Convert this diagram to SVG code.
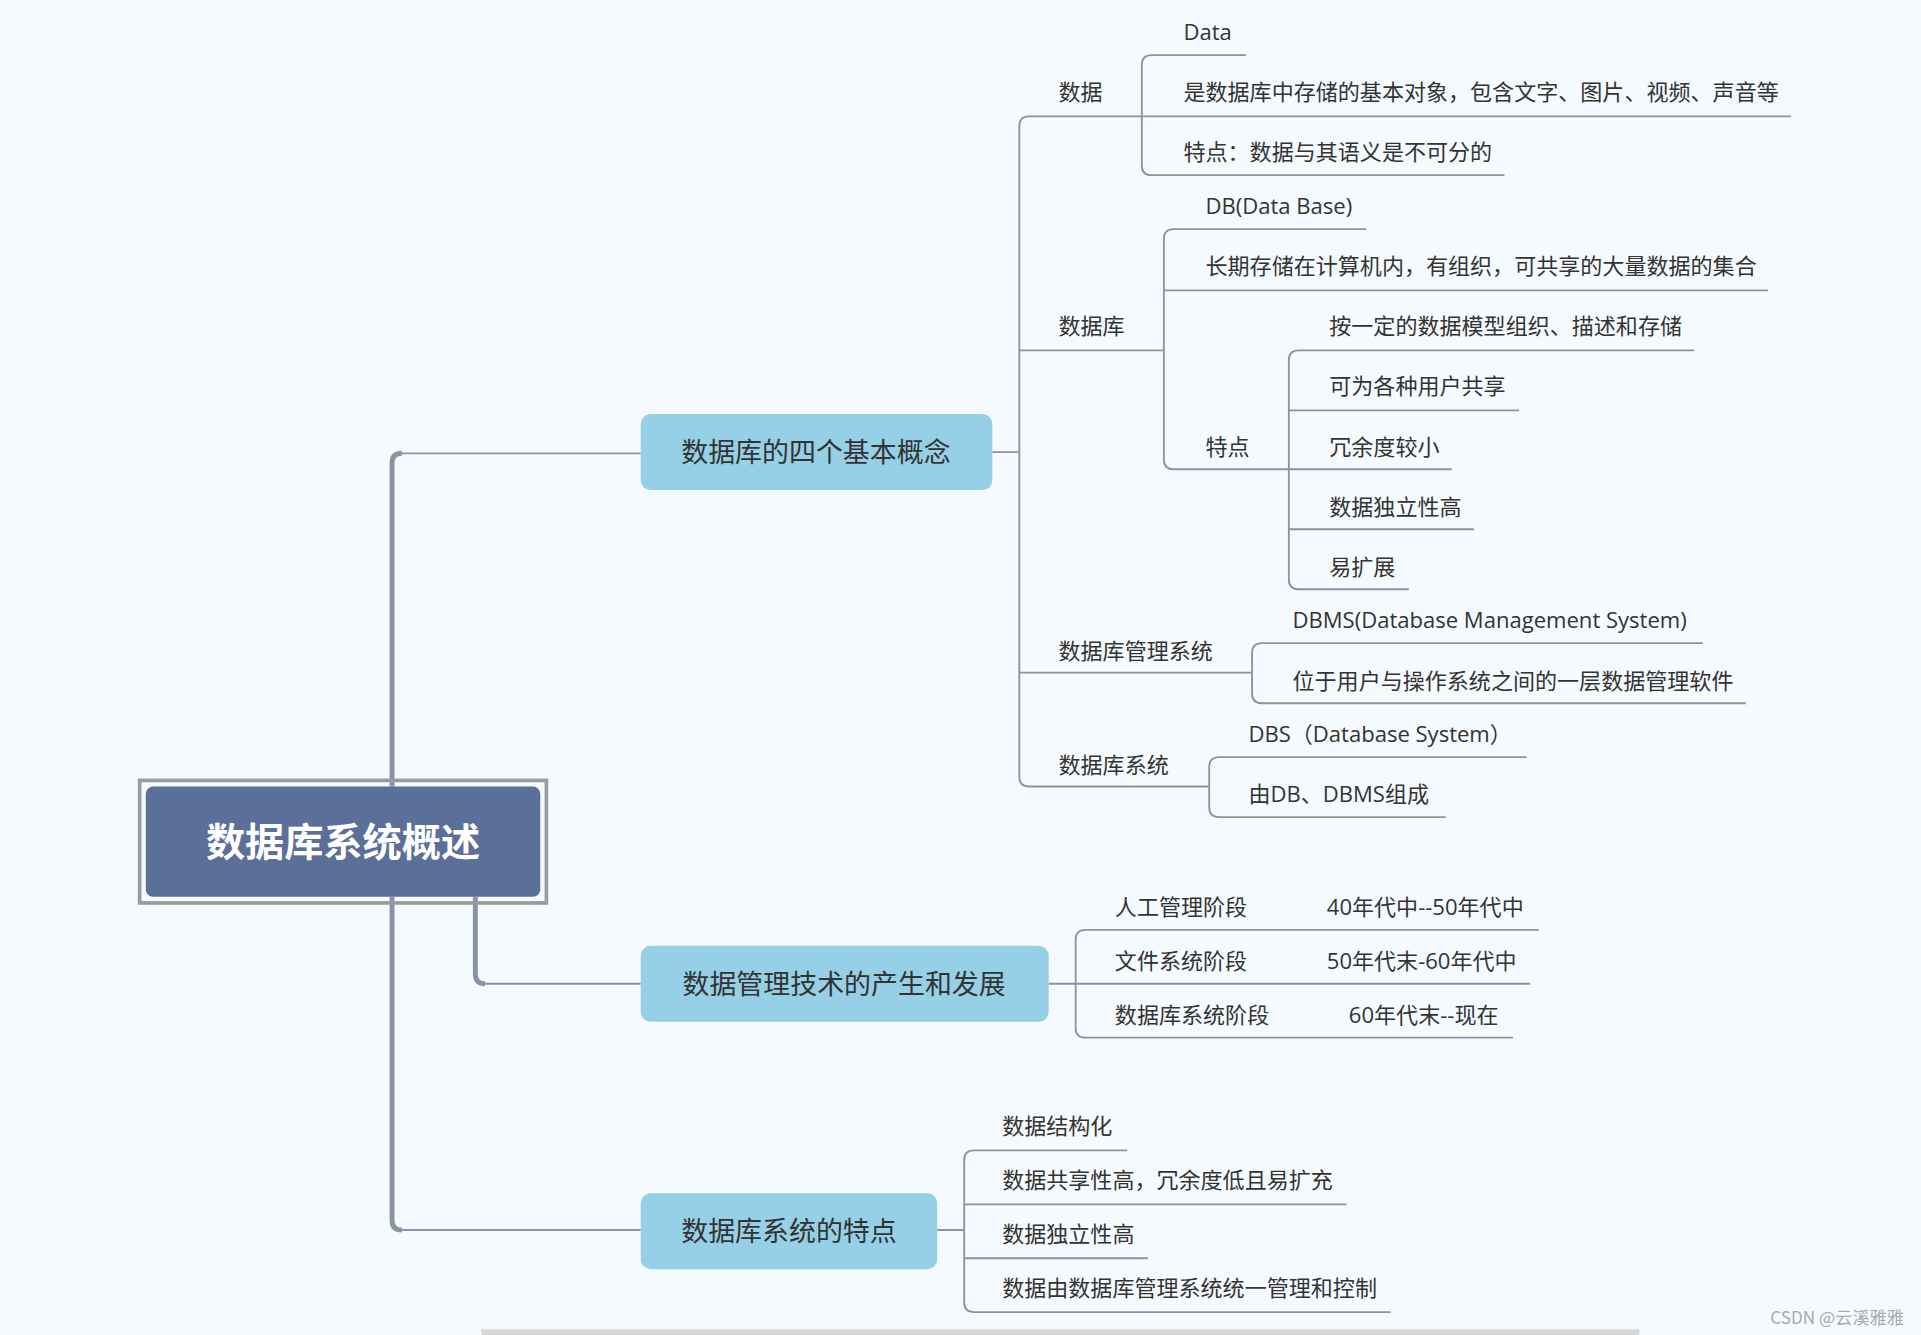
<svg xmlns="http://www.w3.org/2000/svg" width="1921" height="1335" viewBox="0 0 1921 1335">
<style>
.l{fill:none;stroke:#8a93a6;stroke-width:1.5}
.t{font-family:"Open Sans","Noto Sans CJK SC",sans-serif;font-size:18px;fill:#333}
.n{fill:#96d0e6}
.nt{font-family:"Open Sans","Noto Sans CJK SC",sans-serif;font-size:22px;fill:#333;text-anchor:middle}
</style>
<rect width="1921" height="1335" fill="#f5fafe"/>
<g transform="scale(1.22513)">
<rect x="393" y="1085" width="945" height="5" fill="#d8d8d8"/>
<g id="connectors">
<path d="M320,642 V378 Q320,370 328,370" fill="none" stroke="#8a93a6" stroke-width="4"/>
<path d="M328,370 H523" class="l"/>
<path d="M320,732 V996 Q320,1004 328,1004" fill="none" stroke="#8a93a6" stroke-width="4"/>
<path d="M328,1004 H523" class="l"/>
<path d="M388,732 V795 Q388,803 396,803" fill="none" stroke="#8a93a6" stroke-width="4"/>
<path d="M396,803 H523" class="l"/>
<path d="M810,369 H832 M932,95 H840 Q832,95 832,103 V634 Q832,642 840,642 H987 M832,286 H950 M832,549 H1022" class="l"/>
<path d="M1017,45 H940 Q932,45 932,53 V135 Q932,143 940,143 H1228 M932,95 H1462" class="l"/>
<path d="M1115,187 H958 Q950,187 950,195 V375 Q950,383 958,383 H1052 M950,237 H1443" class="l"/>
<path d="M1383,286 H1060 Q1052,286 1052,294 V473 Q1052,481 1060,481 H1150 M1052,335 H1240 M1052,383 H1185 M1052,432 H1203" class="l"/>
<path d="M1390,525 H1030 Q1022,525 1022,533 V566 Q1022,574 1030,574 H1425" class="l"/>
<path d="M1246,618 H995 Q987,618 987,626 V659 Q987,667 995,667 H1180" class="l"/>
<path d="M856,803 H1249 M1256,759 H886 Q878,759 878,767 V839 Q878,847 886,847 H1235" class="l"/>
<path d="M765,1004 H787 M920,939 H795 Q787,939 787,947 V1063 Q787,1071 795,1071 H1135 M787,983 H1099 M787,1027 H937" class="l"/>
</g>
<g id="root">
<rect x="114" y="637" width="332" height="100" fill="none" stroke="#9a9a9a" stroke-width="3"/>
<rect x="119" y="642" width="322" height="90" rx="6" fill="#5a7099"/>
<text x="280" y="699" text-anchor="middle" font-family="'Noto Sans CJK SC',sans-serif" font-size="32" font-weight="bold" fill="#fff">数据库系统概述</text>
</g>
<g id="n1"><rect class="n" x="523" y="338" width="287" height="62" rx="8"/><text class="nt" x="666" y="377">数据库的四个基本概念</text></g>
<g id="n2"><rect class="n" x="523" y="772" width="333" height="62" rx="8"/><text class="nt" x="689" y="811">数据管理技术的产生和发展</text></g>
<g id="n3"><rect class="n" x="523" y="974" width="242" height="62" rx="8"/><text class="nt" x="644" y="1013">数据库系统的特点</text></g>
<g id="labels" class="t">
<text x="864" y="82">数据</text>
<text x="966" y="33">Data</text>
<text x="966" y="82">是数据库中存储的基本对象，包含文字、图片、视频、声音等</text>
<text x="966" y="131">特点：数据与其语义是不可分的</text>
<text x="864" y="273">数据库</text>
<text x="984" y="175">DB(Data Base)</text>
<text x="984" y="224">长期存储在计算机内，有组织，可共享的大量数据的集合</text>
<text x="984" y="371">特点</text>
<text x="1085" y="273">按一定的数据模型组织、描述和存储</text>
<text x="1085" y="322">可为各种用户共享</text>
<text x="1085" y="371">冗余度较小</text>
<text x="1085" y="420">数据独立性高</text>
<text x="1085" y="469">易扩展</text>
<text x="864" y="538">数据库管理系统</text>
<text x="1055" y="513">DBMS(Database Management System)</text>
<text x="1055" y="562">位于用户与操作系统之间的一层数据管理软件</text>
<text x="864" y="631">数据库系统</text>
<text x="1019" y="606">DBS（Database System）</text>
<text x="1019" y="655">由DB、DBMS组成</text>
<text x="910" y="747">人工管理阶段</text><text x="1083" y="747">40年代中--50年代中</text>
<text x="910" y="791">文件系统阶段</text><text x="1083" y="791">50年代末-60年代中</text>
<text x="910" y="835">数据库系统阶段</text><text x="1101" y="835">60年代末--现在</text>
<text x="818" y="926">数据结构化</text>
<text x="818" y="970">数据共享性高，冗余度低且易扩充</text>
<text x="818" y="1014">数据独立性高</text>
<text x="818" y="1058">数据由数据库管理系统统一管理和控制</text>
</g>
<text x="1445" y="1081" font-family="'Noto Sans CJK SC',sans-serif" font-size="14" fill="#aaa">CSDN @云溪雅雅</text>
</g>
</svg>
